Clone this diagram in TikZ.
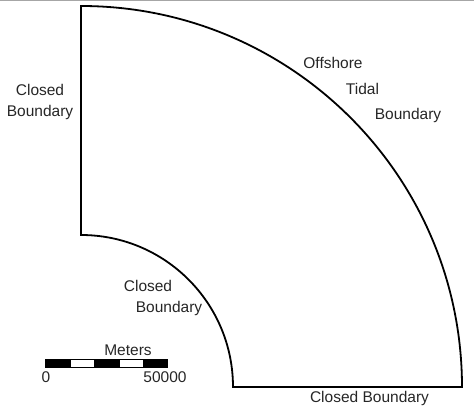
\documentclass[tikz,border=0pt]{standalone}
\usepackage{fontspec}
\setmainfont{Liberation Sans}
\tikzset{
  lbl/.style={anchor=base, inner sep=0pt, font=\fontsize{15.5}{18}\selectfont, text=black!85},
  outline/.style={line width=1.8pt, line join=miter},
  barblack/.style={fill=black, draw=black, line width=0.8pt},
  barwhite/.style={fill=white, draw=black, line width=0.8pt}
}
\begin{document}
\begin{tikzpicture}[x=1pt,y=1pt]
\useasboundingbox (0,0) rectangle (474,412);
\draw[gray!70, line width=1.5pt] (0,411.3) -- (474,411.3);
% domain
\draw[outline] (81,177) -- (81,406) arc[start angle=90,end angle=0,radius=381] -- (233,25) arc[start angle=0,end angle=90,radius=152] -- cycle;
% scale bar
\draw[barblack] (45.7,45) rectangle (70.1,53);
\draw[barwhite] (70.1,45) rectangle (94.5,53);
\draw[barblack] (94.5,45) rectangle (118.9,53);
\draw[barwhite] (118.9,45) rectangle (143.3,53);
\draw[barblack] (143.3,45) rectangle (167.7,53);
\node[lbl] (meters) at (128,56) {Meters};
\node[lbl] (zero) at (46,29) {0};
\node[lbl] (fifty) at (165,29) {50000};
% labels
\node[lbl] (lc1) at (40,316) {Closed};
\node[lbl] (lc2) at (40,295.3) {Boundary};
\node[lbl] (ic1) at (148,120.3) {Closed};
\node[lbl] (ic2) at (169,99) {Boundary};
\node[lbl] (ot1) at (333,343.7) {Offshore};
\node[lbl] (ot2) at (362.5,317) {Tidal};
\node[lbl] (ot3) at (408,292.7) {Boundary};
\node[lbl] (bc) at (369.5,9) {Closed Boundary};
\end{tikzpicture}
\end{document}
